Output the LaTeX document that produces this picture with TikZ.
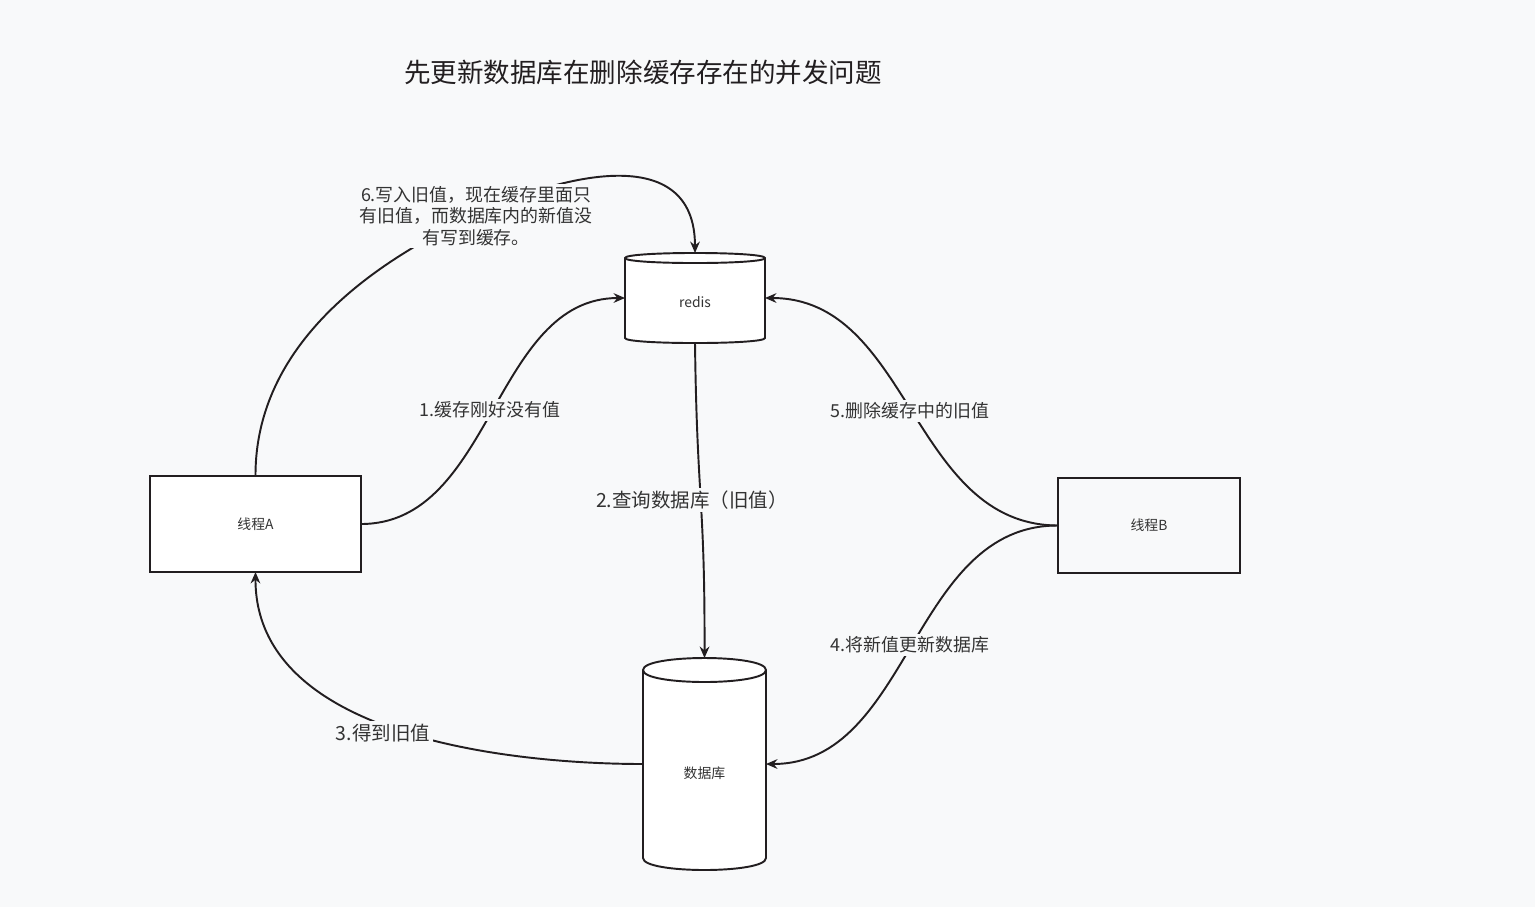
\documentclass[tikz,border=0pt]{standalone}
\usepackage{fontspec}
\setmainfont{Noto Sans CJK SC}
\usetikzlibrary{arrows.meta}
\definecolor{bg}{HTML}{F8F9FA}
\definecolor{ln}{HTML}{221E20}
\definecolor{tx}{HTML}{333333}
\tikzset{
  edge/.style={draw=ln, line width=1.1pt, -{Stealth[length=6.5pt,width=5.5pt]}},
  plain/.style={draw=ln, line width=1.1pt},
  box/.style={draw=ln, line width=1.1pt, rectangle, outer sep=0pt, inner sep=0pt, text=tx, font=\fontsize{7.9}{9}\selectfont},
  anchorbox/.style={draw=none, rectangle, outer sep=0pt, inner sep=0pt},
  inner/.style={text=tx, inner sep=0pt, font=\fontsize{7.9}{9}\selectfont},
  lbl/.style={fill=bg, text=tx, inner sep=1.5pt, font=\fontsize{10.2}{12.2}\selectfont, align=center},
  lblbig/.style={fill=bg, text=tx, inner sep=1.5pt, font=\fontsize{11.1}{13}\selectfont},
  cylbody/.style={draw=ln, fill=white, line width=1.1pt},
}
\begin{document}
\begin{tikzpicture}[x=0.02cm, y=-0.02cm]
\fill[bg] (0,0) rectangle (1535,907);
\useasboundingbox (0,0) rectangle (1535,907);

% title
\node[text=ln, font=\fontsize{15.1}{18}\selectfont] (title) at (643,72) {先更新数据库在删除缓存存在的并发问题};

% redis cylinder (x 625-765, y 253-343, ry 5)
\filldraw[cylbody] (625,258) -- (625,338) .. controls (625,344.7) and (765,344.7) .. (765,338) -- (765,258) .. controls (765,251.3) and (625,251.3) .. cycle;
\draw[plain] (625,258) .. controls (625,264.7) and (765,264.7) .. (765,258);
\node[anchorbox, minimum width=2.8cm, minimum height=1.8cm] (redis) at (695,298) {};
\node[inner] (redistext) at (695,302) {redis};

% database cylinder (x 643-766, y 658-870, ry 12)
\filldraw[cylbody] (643,670) -- (643,858) .. controls (643,874) and (766,874) .. (766,858) -- (766,670) .. controls (766,654) and (643,654) .. cycle;
\draw[plain] (643,670) .. controls (643,686) and (766,686) .. (766,670);
\node[anchorbox, minimum width=2.46cm, minimum height=4.24cm] (db) at (704.5,764) {};
\node[inner] (dbtext) at (704.5,773) {数据库};

% threads
\node[box, fill=white, minimum width=4.22cm, minimum height=1.92cm] (A) at (255.5,524) {线程A};
\node[box, fill=bg, minimum width=3.64cm, minimum height=1.9cm] (B) at (1149,525.5) {线程B};

% connectors
\draw[edge] (A.east) .. controls (493,524) and (493,298) .. (redis.west);
\draw[edge] (redis.south) .. controls (697,500) and (705,500) .. (db.north);
\draw[edge] (db.west) .. controls (520,764) and (255,740) .. (A.south);
\draw[edge] (B.west) .. controls (911,525) and (911,764) .. (db.east);
\draw[edge] (B.west) .. controls (911,525) and (911,298) .. (redis.east);
\coordinate (w6) at (475,215);
\draw[edge] (A.north) .. controls (255,330) and (400,250) .. (w6) .. controls (560,175) and (695,140) .. (redis.north);

% labels
\node[lbl] (l1) at (490,410) {1.缓存刚好没有值};
\node[lblbig] (l2) at (692,500) {2.查询数据库（旧值）};
\node[lblbig] (l3) at (383,733) {3.得到旧值};
\node[lbl] (l4) at (910,645) {4.将新值更新数据库};
\node[lbl] (l5) at (910,411) {5.删除缓存中的旧值};
\node[lbl] (l6) at (476,216) {6.写入旧值，现在缓存里面只\\有旧值，而数据库内的新值没\\有写到缓存。};
\end{tikzpicture}
\end{document}
